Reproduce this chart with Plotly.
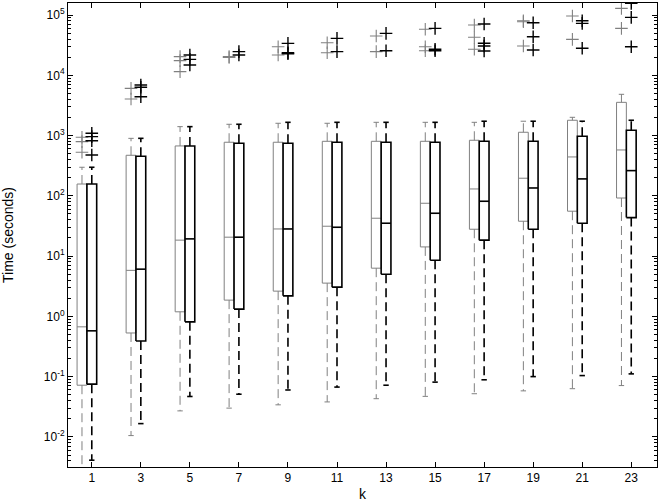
import plotly.graph_objects as go

# ---------------- data ----------------
k_values = [1, 3, 5, 7, 9, 11, 13, 15, 17, 19, 21, 23]
k_labels = [str(k) for k in k_values]

# gray series
gray_lo  = [0.002, 0.0105, 0.027, 0.030, 0.034, 0.038, 0.043, 0.047, 0.052, 0.058, 0.063, 0.071]
gray_q1  = [0.072, 0.53, 1.19, 1.86, 2.62, 3.56, 6.3, 14.2, 27.9, 37.9, 55.6, 92]
gray_med = [0.67, 5.8, 18.4, 20.6, 28.2, 31.3, 42.5, 75.3, 130, 196, 442, 577]
gray_q3  = [157, 471, 673, 775, 775, 803, 803, 803, 836, 1135, 1795, 3560]
gray_hi  = [298, 900, 1406, 1540, 1600, 1600, 1660, 1660, 1660, 1730, 2010, 4840]
gray_out = [
    [938, 793, 528],
    [6080, 4050],
    [20400, 17500, 11500],
    [20400, 19800],
    [29800, 21700],
    [34800, 23700],
    [44900, 24700],
    [58000, 29800, 25500],
    [68200, 42700, 27000],
    [80500, 77400, 30600],
    [96200, 39500],
    [129000, 60100],
]

# black series
black_lo  = [0.0041, 0.0166, 0.0468, 0.051, 0.060, 0.067, 0.072, 0.081, 0.0886, 0.100, 0.104, 0.111]
black_q1  = [0.075, 0.39, 0.81, 1.32, 2.19, 3.05, 5.0, 8.55, 18.4, 27.9, 35.1, 43.5]
black_med = [0.575, 6.07, 19.3, 20.6, 28.2, 30.1, 35.1, 51.4, 81.3, 135, 191, 262]
black_q3  = [157, 454, 673, 745, 745, 775, 775, 775, 803, 803, 973, 1225]
black_hi  = [298, 900, 1406, 1540, 1660, 1660, 1660, 1660, 1730, 1730, 1730, 1795]
black_out = [
    [1090, 960, 822, 476],
    [6900, 6320, 4420],
    [21700, 18400, 14800],
    [24700, 21700],
    [33900, 23700, 22800],
    [41000, 24700],
    [49700, 25600],
    [60100, 27000, 25500],
    [71000, 34000, 30600, 25300],
    [74500, 43600, 26300],
    [80500, 72800, 28100],
    [156000, 91600, 29800],
]

GRAY = "#808080"
BLACK = "#000000"
BOX_W = 0.4
CAP_W = 0.22


def add_series(fig, offset, lo, q1, med, q3, hi, outs, color, lw, mlw):
    bx, by = [], []
    mx, my = [], []
    wx, wy = [], []
    cx, cy = [], []
    ox, oy = [], []
    for i, k in enumerate(k_values):
        c = k + offset
        l, r = c - BOX_W / 2, c + BOX_W / 2
        bx += [l, r, r, l, l, None]
        by += [q1[i], q1[i], q3[i], q3[i], q1[i], None]
        mx += [l, r, None]
        my += [med[i], med[i], None]
        wx += [c, c, None, c, c, None]
        wy += [q3[i], hi[i], None, q1[i], lo[i], None]
        cx += [c - CAP_W / 2, c + CAP_W / 2, None, c - CAP_W / 2, c + CAP_W / 2, None]
        cy += [hi[i], hi[i], None, lo[i], lo[i], None]
        for v in outs[i]:
            ox.append(c)
            oy.append(v)
    fig.add_trace(go.Scatter(x=wx, y=wy, mode="lines",
                             line=dict(color=color, width=lw, dash="9px,5px"),
                             hoverinfo="skip"))
    fig.add_trace(go.Scatter(x=cx, y=cy, mode="lines",
                             line=dict(color=color, width=lw), hoverinfo="skip"))
    fig.add_trace(go.Scatter(x=bx, y=by, mode="lines",
                             line=dict(color=color, width=lw), hoverinfo="skip"))
    fig.add_trace(go.Scatter(x=mx, y=my, mode="lines",
                             line=dict(color=color, width=lw), hoverinfo="skip"))
    fig.add_trace(go.Scatter(x=ox, y=oy, mode="markers",
                             marker=dict(symbol="cross-thin", size=9,
                                         line=dict(color=color, width=mlw)),
                             hoverinfo="skip"))


fig = go.Figure()
add_series(fig, -0.4, gray_lo, gray_q1, gray_med, gray_q3, gray_hi, gray_out, GRAY, 1.0, 1.1)
add_series(fig, 0.0, black_lo, black_q1, black_med, black_q3, black_hi, black_out, BLACK, 1.6, 1.4)

major = [1e-2, 1e-1, 1e0, 1e1, 1e2, 1e3, 1e4, 1e5]
major_text = ["10<sup>-2</sup>", "10<sup>-1</sup>", "10<sup>0</sup>", "10<sup>1</sup>",
              "10<sup>2</sup>", "10<sup>3</sup>", "10<sup>4</sup>", "10<sup>5</sup>"]
minor_vals = [m * 10.0 ** e for e in range(-3, 6) for m in range(2, 10)]

FAMILY = "Liberation Sans, Arial, sans-serif"
tick_font = dict(family=FAMILY, size=12, color="black")
title_font = dict(family=FAMILY, size=14, color="black")

fig.update_layout(
    width=660, height=503,
    margin=dict(l=68, r=3, t=3, b=36),
    paper_bgcolor="white", plot_bgcolor="white",
    showlegend=False,
    hovermode=False,
    font=tick_font,
    xaxis=dict(
        range=[0.03, 24.05],
        tickmode="array", tickvals=k_values, ticktext=k_labels,
        ticks="inside", ticklen=5, tickcolor="black", tickwidth=1,
        showline=True, linecolor="black", linewidth=1, mirror="allticks",
        showgrid=False, zeroline=False, automargin=False,
        tickfont=tick_font,
    ),
    yaxis=dict(
        type="log",
        range=[-2.5, 5.2],
        tickmode="array", tickvals=major, ticktext=major_text,
        ticks="inside", ticklen=5, tickcolor="black", tickwidth=1,
        minor=dict(tickmode="array", tickvals=minor_vals, ticks="inside",
                   ticklen=3, tickcolor="black", tickwidth=1, showgrid=False),
        showline=True, linecolor="black", linewidth=1, mirror="allticks",
        showgrid=False, zeroline=False, automargin=False,
        tickfont=tick_font,
    ),
    annotations=[
        dict(text="k", xref="paper", yref="paper", x=0.5, y=0, yshift=-27,
             xanchor="center", yanchor="middle", showarrow=False, font=title_font),
        dict(text="Time (seconds)", xref="paper", yref="paper", x=0, y=0.5,
             xshift=-60, xanchor="center", yanchor="middle", textangle=-90,
             showarrow=False, font=title_font),
    ],
)

fig.write_html("out.html",
               config={"displayModeBar": False, "staticPlot": True},
               post_script="document.body.style.margin='0';document.body.style.overflow='hidden';")
